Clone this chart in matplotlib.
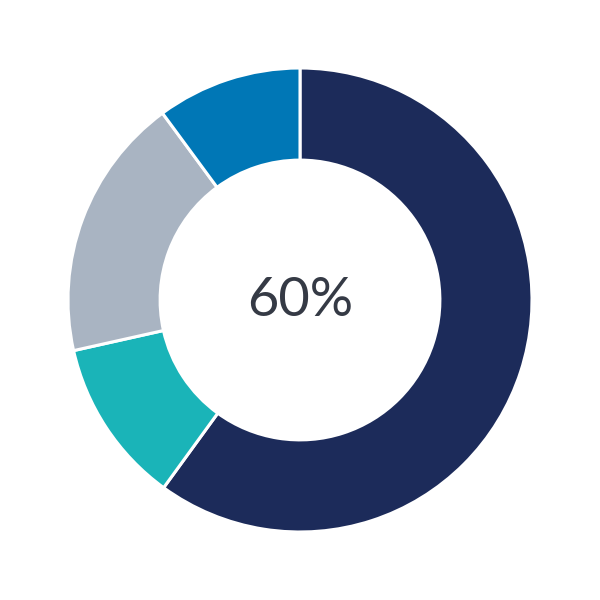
import matplotlib.pyplot as plt

labels = ["Navy", "Teal", "Gray", "Blue"]
values = [60, 11.5, 18.4, 10.1]
colors = ["#1c2b5a", "#1ab4b8", "#a9b4c2", "#0077b6"]
center_text = "60%"

fig = plt.figure(figsize=(6, 6), dpi=100)
ax = fig.add_axes([0, 0, 1, 1])

ax.pie(values, colors=colors, startangle=90, counterclock=False, radius=1,
       wedgeprops=dict(width=0.397, edgecolor="white", linewidth=2.2))

ax.text(0, 0, center_text, ha="center", va="center", fontsize=39,
        family=["Lato", "DejaVu Sans"], fontweight="normal", color="#353a45")

lim = 300 / 232
ax.set_xlim(-lim, lim)
ax.set_ylim(-lim, lim)
ax.set_aspect("equal")
ax.axis("off")

fig.savefig("out.png", dpi=100, facecolor="white")
